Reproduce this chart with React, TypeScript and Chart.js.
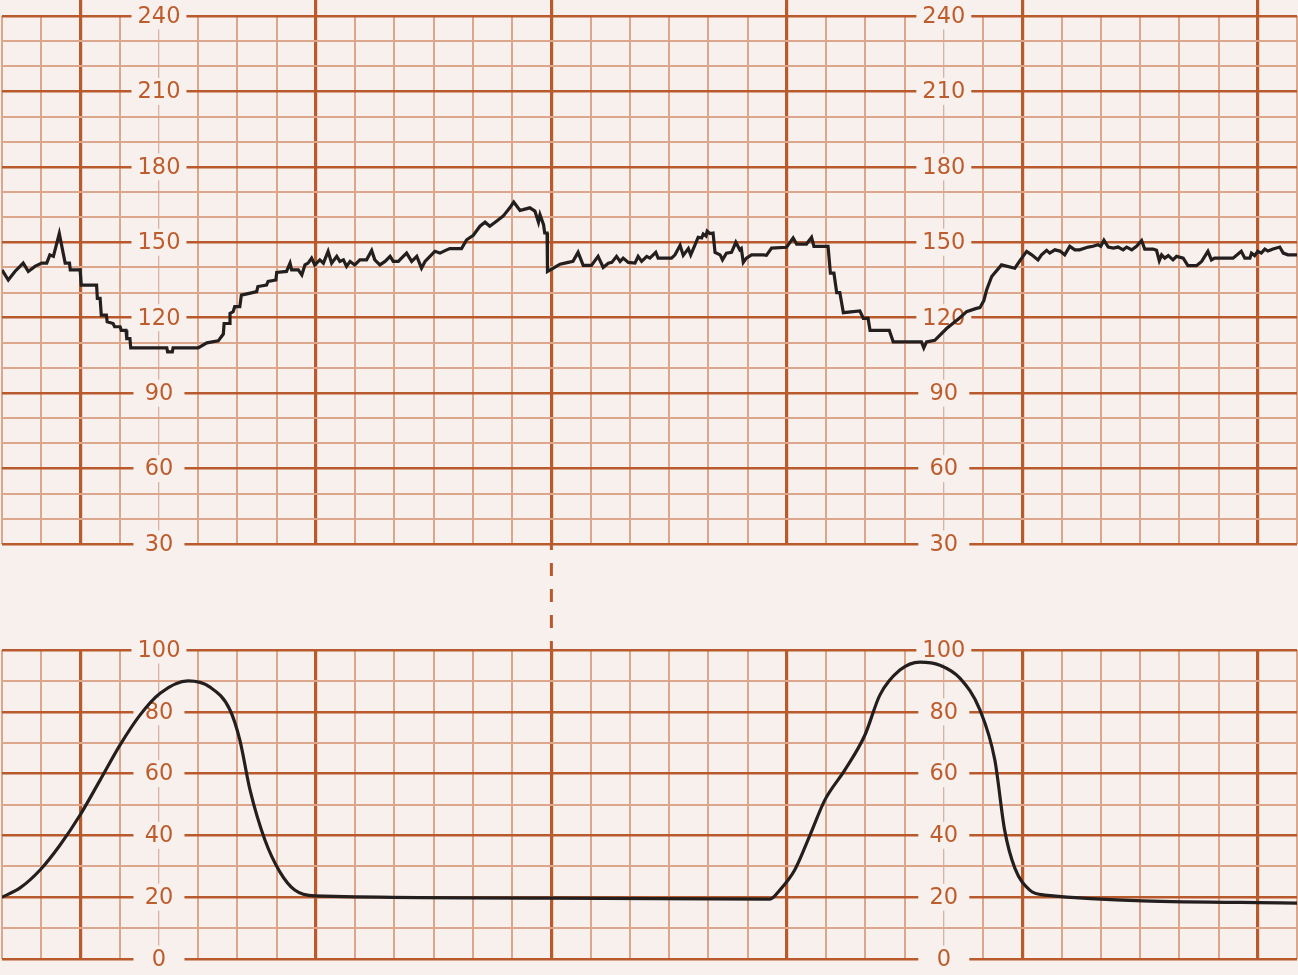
import React, { useEffect, useRef } from "react";
import { Chart, registerables } from "chart.js";

Chart.register(...registerables);

// ---------- colours ----------
const BG = "#f8f0ec";
const MAJOR = "#b85a2c";
const MINOR = "#dca68d";
const COLUMN = "#d6b3a3";
const TEXT = "#bd5d2e";
const TRACE = "#231f1f";

// ---------- axes / ticks ----------
const X_MIN = 0;
const X_MAX = 330;
const X_GRID = [0, 10, 20, 30, 40, 50, 60, 70, 80, 90, 100, 110, 120, 130, 140, 150, 160, 170, 180, 190, 200, 210, 220, 230, 240, 250, 260, 270, 280, 290, 300, 310, 320, 330];
const X_MAJOR = [20, 80, 140, 200, 260, 320];
const LABEL_COLUMNS = [40, 240];
const SPLIT_TIME = 140;

const HR_GRID = [30, 40, 50, 60, 70, 80, 90, 100, 110, 120, 130, 140, 150, 160, 170, 180, 190, 200, 210, 220, 230, 240];
const HR_LABELS = [30, 60, 90, 120, 150, 180, 210, 240];
const UC_GRID = [0, 10, 20, 30, 40, 50, 60, 70, 80, 90, 100];
const UC_LABELS = [0, 20, 40, 60, 80, 100];

// ---------- fetal heart rate (bpm) ----------
const FHR_TIME = [
  0, 1.6, 3.3, 5.4, 6.7, 8.4, 10.1, 11.4, 12.2, 13.1, 14.6, 15.5, 16.1, 17.2, 17.4, 19.9, 20.2, 24.1, 24.3, 25.0,
  25.3, 26.6, 26.8, 28.3, 28.7, 30.1, 30.4, 31.6, 31.8, 32.6, 32.8, 42.0, 42.2, 43.4, 43.6, 50.0, 52.2, 55.1, 56.4, 56.6,
  57.9, 58.1, 58.9, 59.3, 60.6, 61.0, 63.0, 64.9, 65.2, 67.4, 67.8, 69.8, 70.0, 72.5, 73.4, 73.8, 75.5, 76.4, 77.2, 78.0,
  78.9, 79.7, 81.0, 81.9, 83.1, 84.0, 85.3, 86.1, 87.0, 87.8, 88.7, 89.9, 91.2, 92.9, 94.2, 95.0, 96.3, 97.6, 98.9, 99.7,
  101.0, 101.8, 103.1, 104.4, 105.7, 106.9, 107.8, 110.3, 111.6, 112.9, 114.1, 117.1, 118.4, 120.1, 121.8, 123.1, 124.3, 126.0, 127.7, 129.4,
  130.4, 132.0, 132.8, 134.5, 135.8, 136.7, 137.1, 138.0, 138.3, 138.9, 139.0, 140.5, 142.2, 144.3, 145.5, 146.8, 148.1, 150.2, 151.9, 153.2,
  154.5, 155.4, 156.6, 157.5, 158.3, 159.6, 161.3, 162.1, 163.0, 164.3, 165.1, 166.6, 167.2, 170.6, 171.5, 172.8, 173.6, 174.9, 175.5, 176.6,
  177.4, 178.3, 178.7, 179.4, 179.7, 180.4, 181.2, 181.7, 183.0, 183.6, 184.6, 185.9, 187.0, 188.0, 188.4, 188.9, 189.7, 191.0, 194.0, 194.8,
  196.1, 199.9, 201.6, 202.5, 205.0, 206.3, 206.9, 210.5, 211.1, 212.0, 212.7, 213.5, 214.4, 218.6, 219.5, 220.7, 221.2, 226.1, 227.1, 234.3,
  234.9, 235.6, 237.7, 240.7, 244.1, 245.8, 248.3, 249.2, 250.2, 250.9, 252.2, 254.7, 258.1, 259.4, 261.1, 262.4, 264.0, 264.9, 266.2, 267.0,
  268.3, 269.6, 270.8, 272.1, 273.4, 274.6, 276.8, 278.0, 279.3, 280.0, 280.8, 281.9, 283.2, 284.4, 285.7, 286.6, 287.9, 289.1, 290.4, 291.2,
  293.3, 294.2, 294.9, 295.5, 296.3, 297.2, 298.4, 299.3, 301.0, 302.2, 304.4, 305.7, 307.3, 308.2, 309.0, 313.7, 315.8, 316.7, 318.0, 318.4,
  319.2, 320.0, 320.9, 321.8, 322.6, 323.9, 325.6, 326.5, 327.7, 330,
];
const FHR_BPM = [
  139, 135, 138.4, 141.7, 138.4, 140.4, 141.7, 141.7, 145, 144.4, 153.5, 146.4, 141.7, 141.7, 139, 139, 133, 133, 127.7, 127.7,
  121, 121, 118.4, 117.7, 116.4, 116.4, 115, 115, 111.7, 111.7, 108, 108, 106.4, 106.4, 108, 108, 110, 110.8, 113.5, 117.7,
  117.7, 121.7, 122.4, 124.4, 124.4, 129, 129.7, 130.4, 132.4, 133, 134.4, 135, 138, 138.4, 141.7, 139, 139, 137, 141, 141.7,
  143.7, 141, 143, 141.7, 146.4, 141.7, 144.4, 142.4, 143, 140.4, 142.4, 141, 143, 143, 146.7, 143, 141, 142.4, 144.4, 142.4,
  142.4, 143.7, 145.7, 142.4, 144.4, 139.7, 142.4, 146.4, 145.7, 146.7, 147.5, 147.5, 151, 152.8, 156.4, 158, 156.4, 158.4, 160.4, 163.7,
  166, 162.7, 163, 163.7, 162.4, 158, 161, 157, 153.7, 153.7, 138.4, 139.7, 141.3, 142, 142.4, 146, 140.8, 140.8, 144.4, 140,
  141.7, 142, 144.4, 142.4, 143.7, 142, 141.7, 144.4, 142.4, 144.4, 143.7, 146, 143.7, 143.7, 145, 148.8, 144.8, 147.5, 145, 149,
  152, 151.7, 153.3, 152.5, 154.4, 153.5, 153.7, 146, 145, 143, 145.7, 146, 150, 147, 147.5, 142, 143.7, 145, 145, 144.8,
  147.7, 148, 151.7, 149.3, 149.3, 152, 148.4, 148.4, 137.7, 137.7, 130, 130, 122, 122.7, 119.7, 119.7, 115, 115, 110.4, 110.4,
  108, 110.4, 111, 115.7, 120, 122.4, 123.7, 124, 126.8, 131, 136.4, 141, 139.7, 142.7, 146.4, 145, 143, 145, 146.8, 145.7,
  147, 146.5, 145, 148.4, 147, 147, 148.1, 148.4, 149, 148.4, 150.8, 148.1, 147.7, 148.1, 147, 148.1, 147, 148.4, 150.7, 147.3,
  147.3, 146.8, 142.7, 145, 143.7, 144.7, 143, 144.4, 143.7, 140.7, 140.7, 142.4, 146.4, 143, 143.7, 143.7, 146.4, 143.7, 143.7, 145.7,
  144.7, 146.4, 145.7, 147.3, 146.5, 147.3, 148.1, 145.7, 145, 145,
];

// ---------- uterine contractions ----------
const UC_TIME = [
  0, 4.6, 9.7, 14.8, 19.9, 25.0, 30.1, 35.2, 40.3, 47.4, 53.0, 58.1, 60.6, 63.2, 67.0, 70.8, 74.6, 79.7, 140, 195.7,
  198.2, 202, 205.9, 209.7, 214.8, 219.9, 223.7, 228.8, 233.9, 239, 244.1, 249.2, 253, 255.5, 258.1, 261.9, 265.7, 330,
];
const UC_VALUE = [
  20, 23, 28.8, 36.9, 46.6, 57.9, 69.3, 79, 86, 90, 88, 80.6, 70.9, 54.7, 38.5, 28.2, 22.3, 20.4, 19.7, 19.4,
  22.3, 28.8, 40.1, 51.5, 61.2, 72.5, 85.4, 93.5, 96.1, 95.1, 90.9, 80.6, 64.4, 41.7, 29.4, 22.3, 20.7, 18.1,
];

// ---------- layout ----------
const W = 1298;
const H = 975;
const TOP_AREA_BOTTOM = 544;
const BOTTOM_AREA_TOP = 650;
const BOTTOM_AREA_BOTTOM = 959;

const isMajorX = (v: number) => X_MAJOR.includes(v);
const isColumnX = (v: number) => LABEL_COLUMNS.includes(v);

function xScale(position: "top" | "bottom", ticksAbove: boolean) {
  return {
    type: "linear" as const,
    position,
    min: X_MIN,
    max: X_MAX,
    afterBuildTicks: (axis: any) => {
      axis.ticks = X_GRID.map((v) => ({ value: v }));
    },
    ticks: { display: false },
    border: { display: false },
    grid: {
      drawTicks: ticksAbove,
      tickLength: 16,
      color: (c: any) => (isMajorX(c.tick.value) ? MAJOR : isColumnX(c.tick.value) ? COLUMN : MINOR),
      lineWidth: (c: any) => (isMajorX(c.tick.value) ? 3.2 : isColumnX(c.tick.value) ? 1.3 : 2),
      tickColor: (c: any) => (isMajorX(c.tick.value) ? MAJOR : "rgba(0,0,0,0)"),
      tickWidth: (c: any) => (isMajorX(c.tick.value) ? 3.2 : 0),
    },
  };
}

function yScale(min: number, max: number, gridVals: number[], majors: number[]) {
  return {
    type: "linear" as const,
    position: "left" as const,
    min,
    max,
    afterBuildTicks: (axis: any) => {
      axis.ticks = gridVals.map((v) => ({ value: v }));
    },
    ticks: { display: false },
    border: { display: false },
    grid: {
      drawTicks: false,
      color: (c: any) => (majors.includes(c.tick.value) ? MAJOR : MINOR),
      lineWidth: (c: any) => (majors.includes(c.tick.value) ? 2.6 : 2),
    },
  };
}

function labelPlugin(labels: number[]) {
  return {
    id: "columnLabels",
    beforeDatasetsDraw(chart: any) {
      const { ctx } = chart;
      const xs = chart.scales.x;
      const ys = chart.scales.y;
      ctx.save();
      ctx.font = "22.5px 'DejaVu Sans'";
      ctx.textAlign = "center";
      ctx.textBaseline = "middle";
      for (const col of LABEL_COLUMNS) {
        const px = xs.getPixelForValue(col);
        for (const v of labels) {
          const py = ys.getPixelForValue(v);
          const text = String(v);
          const w = Math.max(ctx.measureText(text).width + 12, 51);
          ctx.fillStyle = BG;
          ctx.fillRect(px - w / 2, py - 13.5, w, 27);
          ctx.fillStyle = TEXT;
          ctx.fillText(text, px, py + 1);
        }
      }
      ctx.restore();
    },
  };
}

const splitPlugin = {
  id: "splitMarker",
  afterDraw(chart: any) {
    const { ctx, chartArea } = chart;
    const x = chart.scales.x.getPixelForValue(SPLIT_TIME);
    ctx.save();
    ctx.strokeStyle = MAJOR;
    ctx.lineWidth = 3;
    ctx.setLineDash([13, 13]);
    ctx.lineDashOffset = 7;
    ctx.beginPath();
    ctx.moveTo(x, chartArea.bottom);
    ctx.lineTo(x, chartArea.bottom + (BOTTOM_AREA_TOP - TOP_AREA_BOTTOM));
    ctx.stroke();
    ctx.restore();
  },
};

export default function App() {
  const topRef = useRef<HTMLCanvasElement | null>(null);
  const botRef = useRef<HTMLCanvasElement | null>(null);

  useEffect(() => {
    document.body.style.margin = "0";
    document.body.style.overflow = "hidden";
    if (!topRef.current || !botRef.current) return;

    const fhrData = FHR_TIME.map((t, i) => ({ x: t, y: FHR_BPM[i] }));
    const ucData = UC_TIME.map((t, i) => ({ x: t, y: UC_VALUE[i] }));

    const top = new Chart(topRef.current, {
      type: "line",
      data: {
        datasets: [
          {
            label: "FHR",
            data: fhrData,
            borderColor: TRACE,
            borderWidth: 3.2,
            pointRadius: 0,
            tension: 0,
            fill: false,
          },
        ],
      },
      options: {
        animation: false,
        responsive: false,
        events: [],
        layout: { padding: { left: 2, right: 1, top: 0, bottom: H - TOP_AREA_BOTTOM } },
        plugins: { legend: { display: false }, tooltip: { enabled: false } },
        scales: {
          x: xScale("top", true) as any,
          y: yScale(30, 240, HR_GRID, HR_LABELS) as any,
        },
      },
      plugins: [labelPlugin(HR_LABELS), splitPlugin],
    });

    const bottom = new Chart(botRef.current, {
      type: "line",
      data: {
        datasets: [
          {
            label: "UC",
            data: ucData,
            borderColor: TRACE,
            borderWidth: 3.2,
            pointRadius: 0,
            cubicInterpolationMode: "monotone",
            fill: false,
          },
        ],
      },
      options: {
        animation: false,
        responsive: false,
        events: [],
        layout: { padding: { left: 2, right: 1, top: BOTTOM_AREA_TOP, bottom: H - BOTTOM_AREA_BOTTOM } },
        plugins: { legend: { display: false }, tooltip: { enabled: false } },
        scales: {
          x: xScale("bottom", false) as any,
          y: yScale(0, 100, UC_GRID, UC_LABELS) as any,
        },
      },
      plugins: [labelPlugin(UC_LABELS)],
    });

    return () => {
      top.destroy();
      bottom.destroy();
    };
  }, []);

  const canvasStyle: React.CSSProperties = { position: "absolute", left: 0, top: 0, width: W, height: H };
  return (
    <div style={{ position: "fixed", left: 0, top: 0, width: W, height: H, background: BG, overflow: "hidden" }}>
      <canvas ref={botRef} width={W} height={H} style={canvasStyle} />
      <canvas ref={topRef} width={W} height={H} style={canvasStyle} />
    </div>
  );
}
